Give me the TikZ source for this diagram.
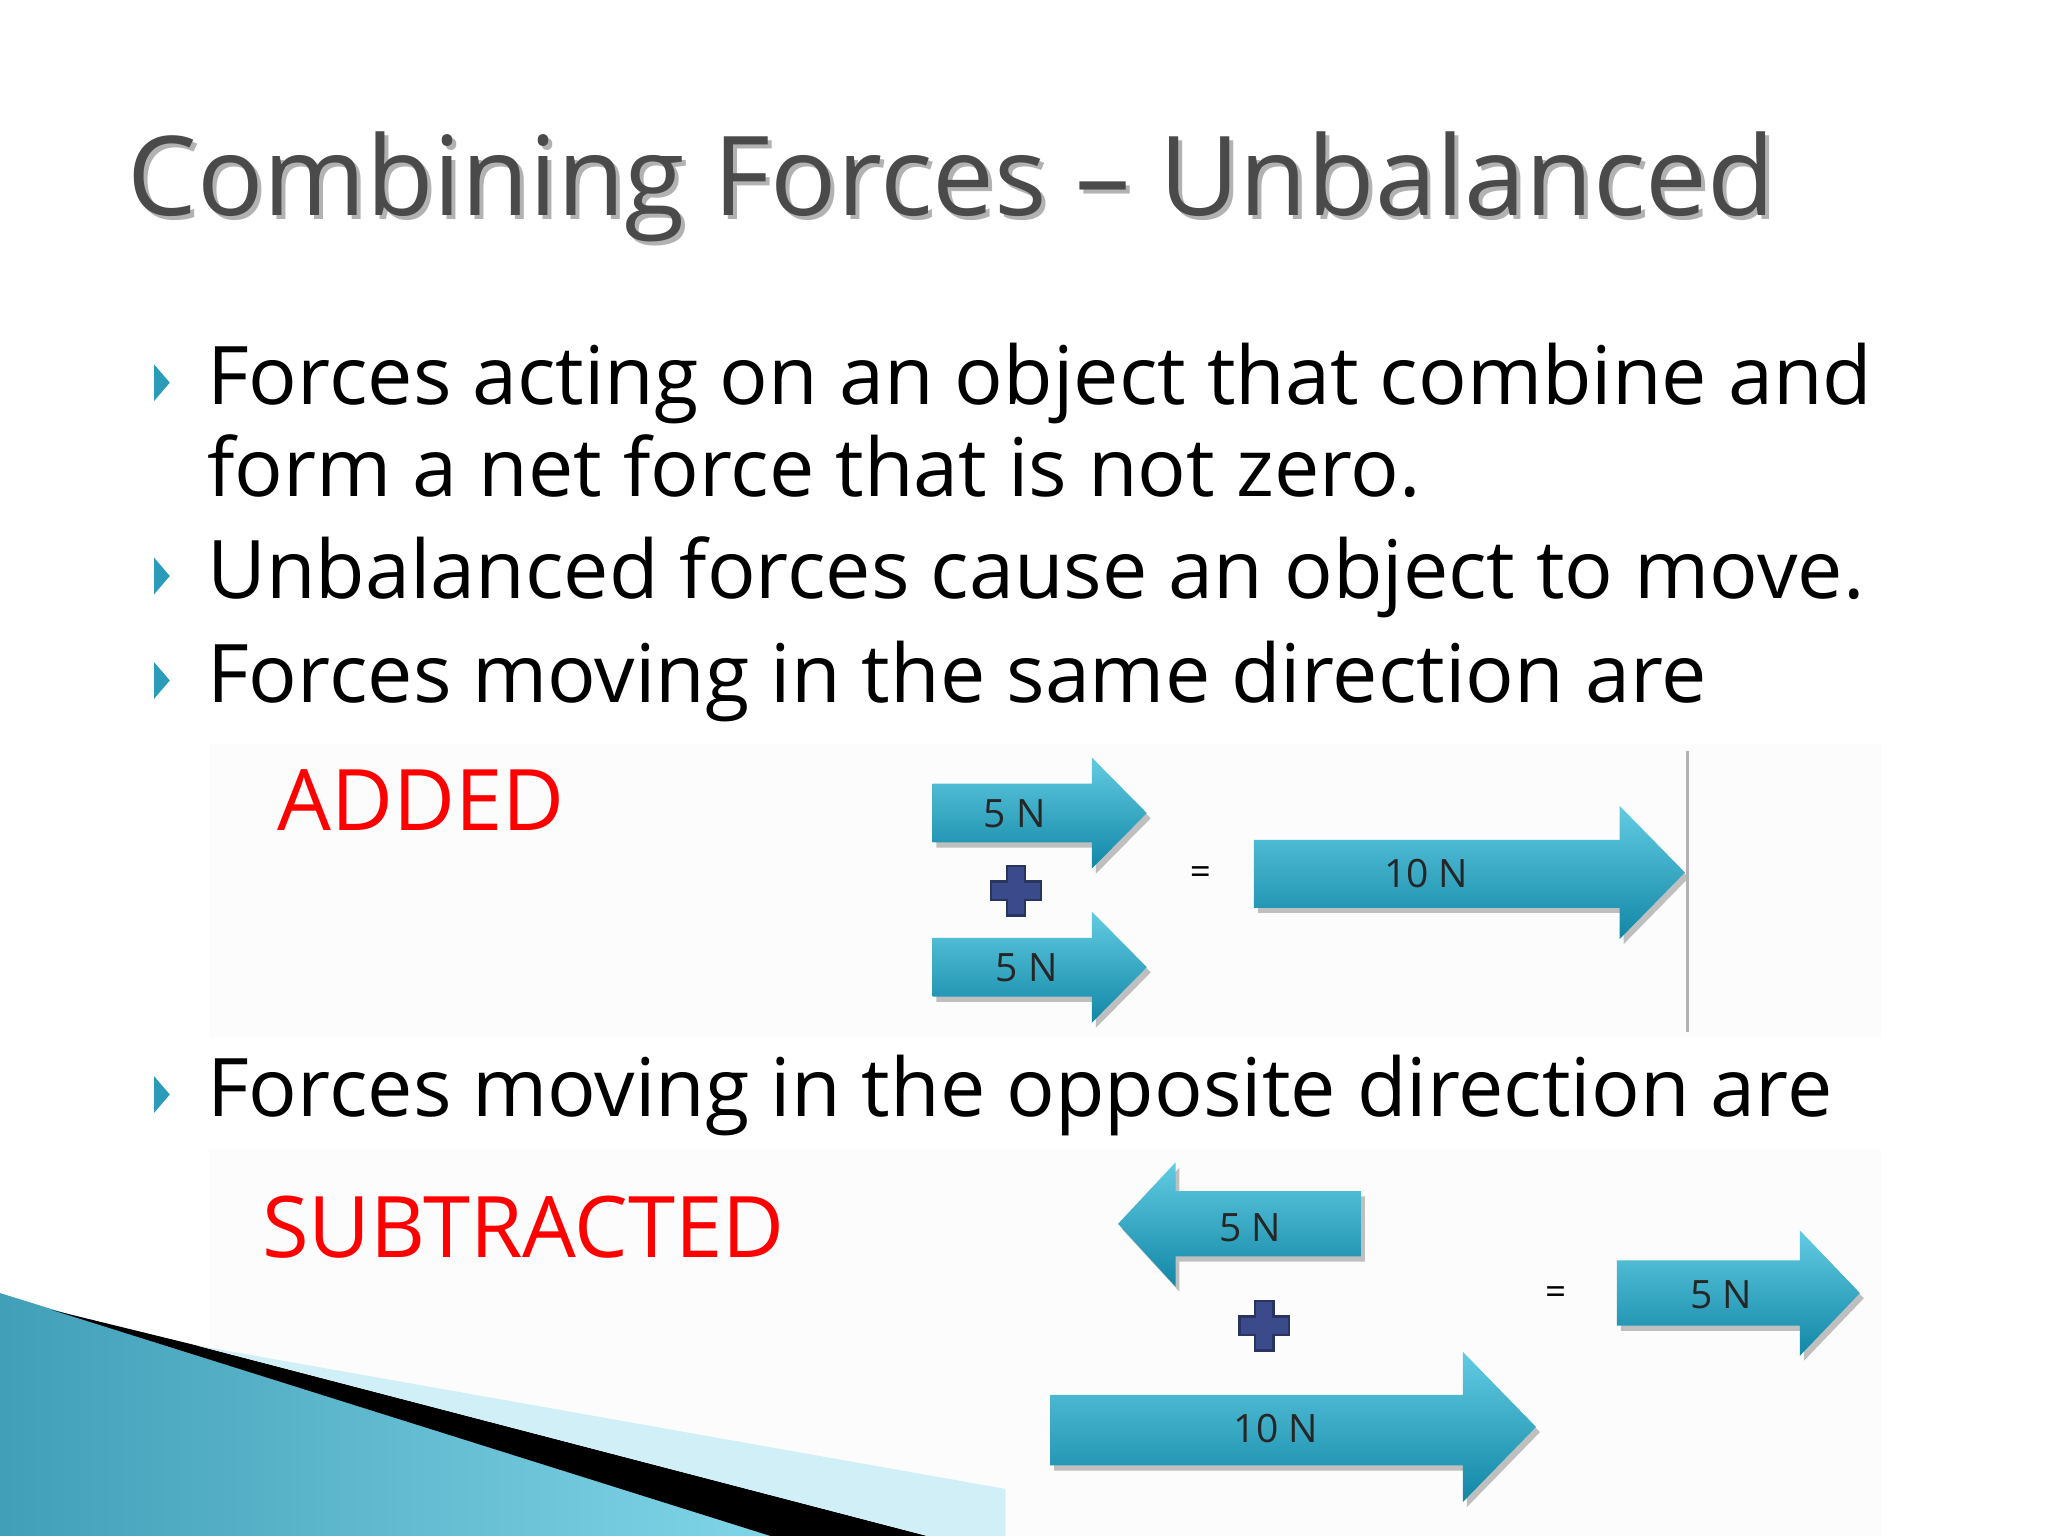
\documentclass[tikz,border=0pt]{standalone}
\usepackage{fontspec}
\setmainfont{Open Sans}
\usetikzlibrary{shapes.geometric}
\definecolor{tealtop}{HTML}{62CBE2}
\definecolor{tealbot}{HTML}{1187A6}
\definecolor{titlegray}{HTML}{4A4A4A}
\definecolor{navy}{HTML}{3A4A8A}
\definecolor{bultl}{HTML}{2A9BB8}
\tikzset{
 body/.style={anchor=base west,font=\fontsize{17.6}{22}\selectfont,inner sep=0pt},
 redlbl/.style={anchor=base west,font=\fontsize{18.5}{22}\selectfont,text=red,inner sep=0pt},
 alabel/.style={font=\fontsize{8.5}{10}\selectfont,text=black!85,inner sep=0pt},
 ashade/.style={top color=tealtop,bottom color=tealbot},
 plus/.style={fill=navy,draw=navy!70!black,line width=0.5pt},
 bul/.style={fill=bultl}
}
\newcommand\rarrow[7]{%
 \fill[black!25] ({#1+3},{#4+4}) -- ({#2+3},{#4+4}) -- ({#2+3},{#6+4}) -- ({#3+3},{(#6+#7)/2+4}) -- ({#2+3},{#7+4}) -- ({#2+3},{#5+4}) -- ({#1+3},{#5+4}) -- cycle;
 \shade[ashade] (#1,#4) -- (#2,#4) -- (#2,#6) -- (#3,{(#6+#7)/2}) -- (#2,#7) -- (#2,#5) -- (#1,#5) -- cycle;}
\newcommand\plusmark[2]{%
 \fill[plus] ({#1-7},{#2-19}) -- ({#1+7},{#2-19}) -- ({#1+7},{#2-7}) -- ({#1+19},{#2-7}) -- ({#1+19},{#2+7}) -- ({#1+7},{#2+7}) -- ({#1+7},{#2+19}) -- ({#1-7},{#2+19}) -- ({#1-7},{#2+7}) -- ({#1-19},{#2+7}) -- ({#1-19},{#2-7}) -- ({#1-7},{#2-7}) -- cycle;}
\begin{document}
\begin{tikzpicture}[x=0.01cm,y=-0.01cm]
\useasboundingbox (0,0) rectangle (1568,1176);
\fill[white] (0,0) rectangle (1568,1176);
\fill[black!1] (160,570) rectangle (1440,795);
\fill[black!1] (160,880) rectangle (1440,1176);
% title
\node[anchor=base west,inner sep=0pt,font=\fontsize{24}{30}\selectfont,text=black!30] (titleS) at (100,168) {Combining Forces – Unbalanced};
\node[anchor=base west,inner sep=0pt,font=\fontsize{24}{30}\selectfont,text=titlegray] (title) at (97,165) {Combining Forces – Unbalanced};
% bullets
\foreach \y in {293,441,521,838} {\fill[bul] (118,{\y-14}) -- (130,\y) -- (118,{\y+14}) -- cycle;}
\node[body] (b1a) at (158,310) {Forces acting on an object that combine and};
\node[body] (b1b) at (158,380) {form a net force that is not zero.};
\node[body] (b2) at (158,458) {Unbalanced forces cause an object to move.};
\node[body] (b3) at (158,538) {Forces moving in the same direction are};
\node[body] (b4) at (158,855) {Forces moving in the opposite direction are};
\node[redlbl] (added) at (212,636) {ADDED};
\node[redlbl] (sub) at (200,963) {SUBTRACTED};
% added group
\rarrow{714}{836}{878}{600}{645}{580}{665}
\rarrow{714}{836}{878}{718}{763}{698}{783}
\rarrow{960}{1240}{1290}{643}{695}{617}{719}
\node[alabel] (a1) at (777,623) {5 N};
\node[alabel] (a2) at (786,741) {5 N};
\node[alabel] (a3) at (1092,669) {10 N};
\plusmark{778}{682}
\node[font=\fontsize{8}{10}\selectfont] (eq1) at (919,670) {=};
\draw[black!30,line width=0.6pt] (1292,575) -- (1292,790);
% subtracted group
\fill[black!25] (1045,916) -- (903,916) -- (903,894) -- (859,941) -- (903,989) -- (903,966) -- (1045,966) -- cycle;
\shade[ashade] (1042,912) -- (900,912) -- (900,890) -- (856,937) -- (900,985) -- (900,962) -- (1042,962) -- cycle;
\rarrow{804}{1120}{1176}{1068}{1122}{1035}{1150}
\rarrow{1238}{1378}{1424}{965}{1015}{942}{1038}
\node[alabel] (s1) at (957,940) {5 N};
\node[alabel] (s2) at (977,1094) {10 N};
\node[alabel] (s3) at (1318,991) {5 N};
\plusmark{968}{1015}
\node[font=\fontsize{8}{10}\selectfont] (eq2) at (1191,992) {=};
% swoosh
\shade[left color=tealbot!80, right color=tealtop!80] (0,990) -- (90,1018) -- (600,1176) -- (0,1176) -- cycle;
\fill[black] (40,1003) -- (150,1030) -- (710,1176) -- (590,1176) -- cycle;
\fill[tealtop!30] (150,1030) -- (770,1140) -- (770,1176) -- (710,1176) -- cycle;
\end{tikzpicture}
\end{document}
